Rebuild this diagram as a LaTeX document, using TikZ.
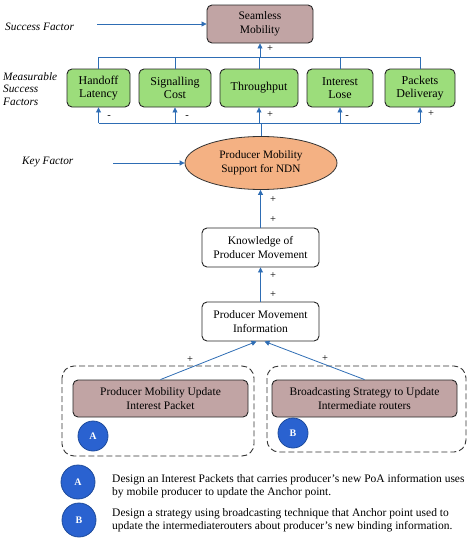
\documentclass[tikz,border=0pt]{standalone}
\usepackage{fontspec}
\setmainfont{Liberation Serif}
\usetikzlibrary{arrows.meta,shapes.geometric}
\definecolor{pinkbox}{HTML}{C1A4A4}
\definecolor{greenbox}{HTML}{9CDD7B}
\definecolor{orangebox}{HTML}{F4B183}
\definecolor{bluel}{HTML}{2E6DB4}
\definecolor{circfill}{HTML}{2A62D0}
\definecolor{circdraw}{HTML}{1E4B9C}
\tikzset{
  box/.style={draw=black!85, line width=0.9pt, rounded corners=5pt, align=center, inner sep=1pt, font=\fontsize{11.5}{13.5}\selectfont},
  pinkb/.style={box, fill=pinkbox},
  greenb/.style={box, fill=greenbox, minimum height=38pt, font=\fontsize{12}{13.5}\selectfont},
  whiteb/.style={box, fill=white, minimum width=117pt, minimum height=39pt},
  oval/.style={ellipse, draw=black!80, line width=0.8pt, fill=orangebox, minimum width=152pt, minimum height=53pt, align=center, inner sep=0pt, font=\fontsize{11.3}{13.5}\selectfont},
  conn/.style={draw=bluel, line width=0.8pt},
  arr/.style={conn, -{Triangle[length=5pt,width=5pt]}},
  lbl/.style={font=\itshape\fontsize{11.3}{12.5}\selectfont, align=left, anchor=west, inner sep=0pt},
  sign/.style={font=\fontsize{10.5}{11}\selectfont, inner sep=0pt},
  dashbox/.style={draw=black!80, line width=0.9pt, dash pattern=on 6pt off 3pt, rounded corners=12pt},
  circ/.style={circle, fill=circfill, draw=circdraw, line width=0.8pt, text=white, font=\bfseries\fontsize{10}{11}\selectfont, inner sep=0pt},
  legtext/.style={anchor=west, align=left, inner sep=0pt, font=\fontsize{11.5}{13.5}\selectfont}
}
\begin{document}
\begin{tikzpicture}[x=1pt,y=-1pt]
\useasboundingbox (0,0) rectangle (474,546);

% top
\node[pinkb, minimum width=106pt, minimum height=38pt] (sm) at (260,24) {Seamless\\Mobility};
\node[lbl] (sf) at (5,27) {Success Factor};
\coordinate (sfs) at (97,24);
\draw[arr] (sfs) -- (sm.west);

% green boxes
\node[greenb, minimum width=63pt] (ho) at (98.5,88) {Handoff\\Latency};
\node[greenb, minimum width=72pt] (sc) at (175,88) {Signalling\\Cost};
\node[greenb, minimum width=78pt] (tp) at (259,88) {Throughput};
\node[greenb, minimum width=66pt] (il) at (340,88) {Interest\\Lose};
\node[greenb, minimum width=70pt] (pd) at (420,88) {Packets\\Deliveray};
\node[lbl] (msf) at (3,89) {Measurable\\Success\\Factors};

% top bus
\coordinate (bt1) at (ho.north |- 0,57);
\coordinate (bt5) at (pd.north |- 0,57);
\coordinate (btc) at (sm.south |- 0,57);
\draw[conn] (ho.north) -- (bt1) -- (bt5) -- (pd.north);
\draw[conn] (sc.north) -- (sc.north |- bt1);
\draw[conn] (il.north) -- (il.north |- bt1);
\draw[conn] (tp.north) -- (tp.north |- bt1);
\draw[arr] (btc) -- (sm.south);
\node[sign] (s0) at (270,49) {+};

% ellipse
\node[oval] (pm) at (261,163) {Producer Mobility\\Support for NDN};
\node[lbl] (kf) at (22,162) {Key Factor};
\coordinate (kfs) at (113,163);
\draw[arr] (kfs) -- (pm.west);

% bottom bus
\coordinate (bb1) at (ho.south |- 0,123);
\coordinate (bb5) at (pd.south |- 0,123);
\coordinate (bbc) at (pm.north |- 0,123);
\draw[conn] (pm.north) -- (bbc);
\draw[conn] (bb1) -- (bb5);
\draw[arr] (bb1) -- (ho.south);
\draw[arr] (sc.south |- bb1) -- (sc.south);
\draw[arr] (tp.south |- bb1) -- (tp.south);
\draw[arr] (il.south |- bb1) -- (il.south);
\draw[arr] (bb5) -- (pd.south);
\node[sign] (s1) at (109,117) {-};
\node[sign] (s2) at (187,117) {-};
\node[sign] (s3) at (270,115) {+};
\node[sign] (s4) at (347,117) {-};
\node[sign] (s5) at (431,114) {+};

% knowledge and pmi
\node[whiteb] (kn) at (260.5,247.5) {Knowledge of\\Producer Movement};
\node[whiteb] (pi) at (260.5,321.5) {Producer Movement\\Information};
\draw[arr] (kn.north) -- (kn.north |- pm.south);
\draw[arr] (pi.north) -- (kn.south);
\node[sign] (s6) at (273,200) {+};
\node[sign] (s7) at (273,220) {+};
\node[sign] (s8) at (273,276) {+};
\node[sign] (s9) at (273,295) {+};

% dashed groups
\draw[dashbox] (62,366) rectangle (254,456);
\draw[dashbox] (267,366) rectangle (466,452);
\node[pinkb, minimum width=175pt, minimum height=37pt] (lp) at (160.5,398.5) {Producer Mobility Update\\Interest Packet};
\node[pinkb, minimum width=185pt, minimum height=37pt] (rp) at (364.5,398.5) {Broadcasting Strategy to Update\\Intermediate routers};
\draw[arr] (lp.north) -- ([xshift=-4pt]pi.south);
\draw[arr] (rp.north) -- ([xshift=4pt]pi.south);
\node[sign] (s10) at (190,360) {+};
\node[sign] (s11) at (325,359) {+};
\node[circ, minimum size=30pt] (ca) at (93,436) {A};
\node[circ, minimum size=30pt] (cb) at (293,433) {B};

% legend
\node[circ, minimum size=34pt] (la) at (78,482) {A};
\node[circ, minimum size=34pt] (lb) at (79,520) {B};
\node[legtext] (ta) at (112,486) {Design an Interest Packets that carries producer’s new PoA information uses\\by mobile producer to update the Anchor point.};
\node[legtext] (tb) at (112,520) {Design a strategy using broadcasting technique that Anchor point used to\\update the intermediaterouters about producer’s new binding information.};
\end{tikzpicture}
\end{document}
